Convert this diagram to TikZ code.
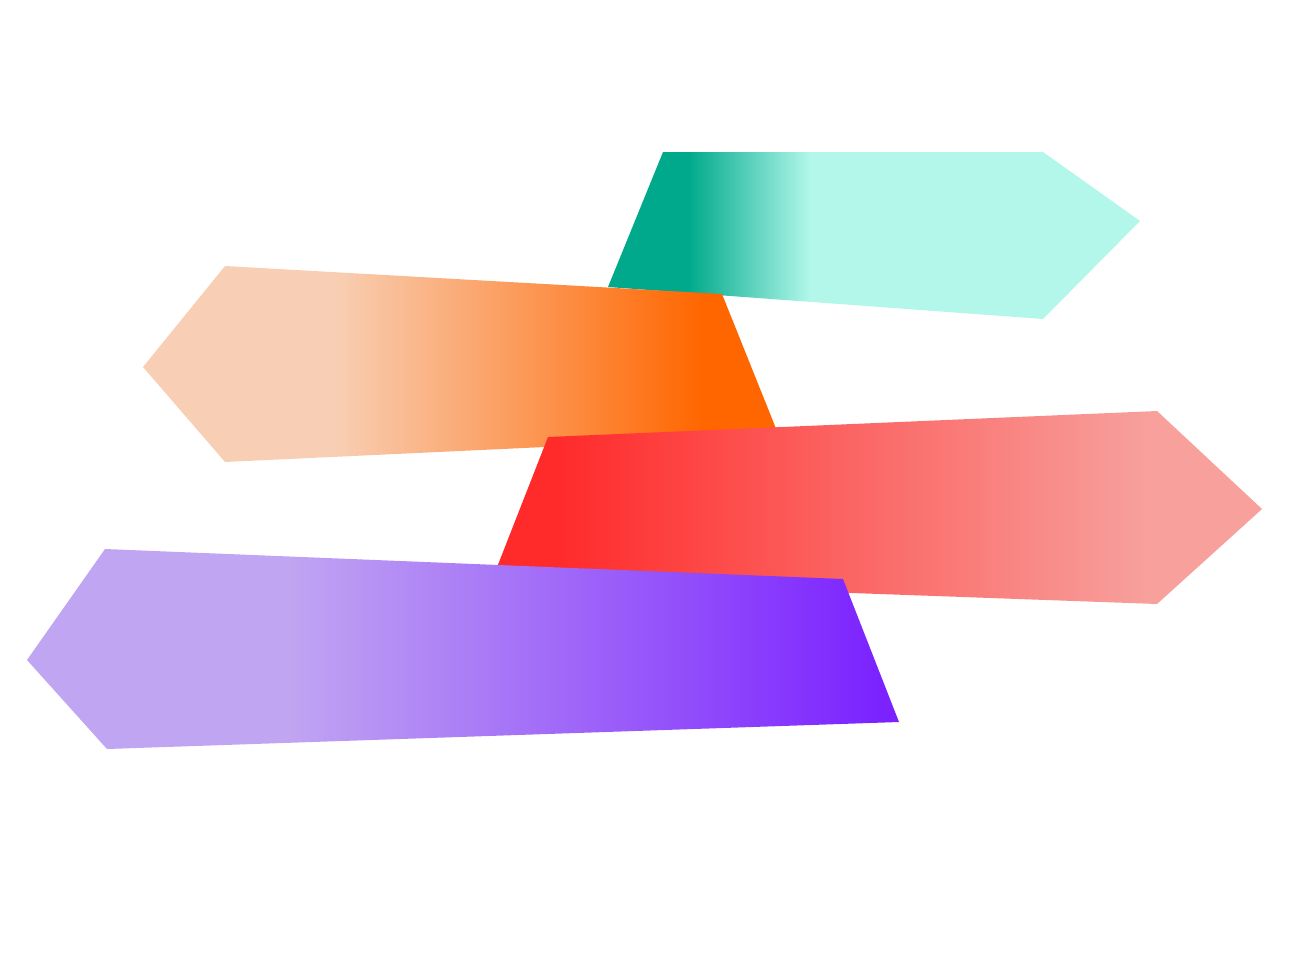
\documentclass[tikz,border=0pt]{standalone}

\definecolor{tealdark}{HTML}{00A98B}
\definecolor{teallight}{HTML}{B2F7EA}
\definecolor{peach}{HTML}{F8CFB4}
\definecolor{orangedeep}{HTML}{FF6600}
\definecolor{reddeep}{HTML}{FF2A2A}
\definecolor{pinklight}{HTML}{F7A09C}
\definecolor{lavender}{HTML}{C0A5F2}
\definecolor{purpledeep}{HTML}{7B22FF}

% the path is fitted to the middle 25bp..75bp of each shading
\pgfdeclarehorizontalshading{tealshade}{100bp}{color(0bp)=(tealdark); color(32.5bp)=(tealdark); color(44bp)=(teallight); color(100bp)=(teallight)}
\pgfdeclarehorizontalshading{orangeshade}{100bp}{color(0bp)=(peach); color(40bp)=(peach); color(69bp)=(orangedeep); color(100bp)=(orangedeep)}
\pgfdeclarehorizontalshading{redshade}{100bp}{color(0bp)=(reddeep); color(29bp)=(reddeep); color(67.5bp)=(pinklight); color(100bp)=(pinklight)}
\pgfdeclarehorizontalshading{purpleshade}{100bp}{color(0bp)=(lavender); color(40bp)=(lavender); color(74bp)=(purpledeep); color(100bp)=(purpledeep)}

\begin{document}
\begin{tikzpicture}
    \useasboundingbox (0,0) rectangle (13,9.66);
    % top arrow, pointing right
    \shade[shading=tealshade] (6.63,8.14) -- (10.43,8.14) -- (11.40,7.45)
        -- (10.43,6.47) -- (6.08,6.79) -- cycle;
    % second arrow, pointing left
    \shade[shading=orangeshade] (1.43,5.99) -- (2.25,7.00) -- (7.22,6.72)
        -- (7.79,5.30) -- (2.25,5.04) -- cycle;
    % third arrow, pointing right
    \shade[shading=redshade] (5.48,5.29) -- (11.57,5.55) -- (12.62,4.57)
        -- (11.57,3.62) -- (4.92,3.86) -- cycle;
    % bottom arrow, pointing left
    \shade[shading=purpleshade] (0.27,3.06) -- (1.05,4.17) -- (8.43,3.87)
        -- (8.99,2.44) -- (1.07,2.17) -- cycle;
\end{tikzpicture}
\end{document}
